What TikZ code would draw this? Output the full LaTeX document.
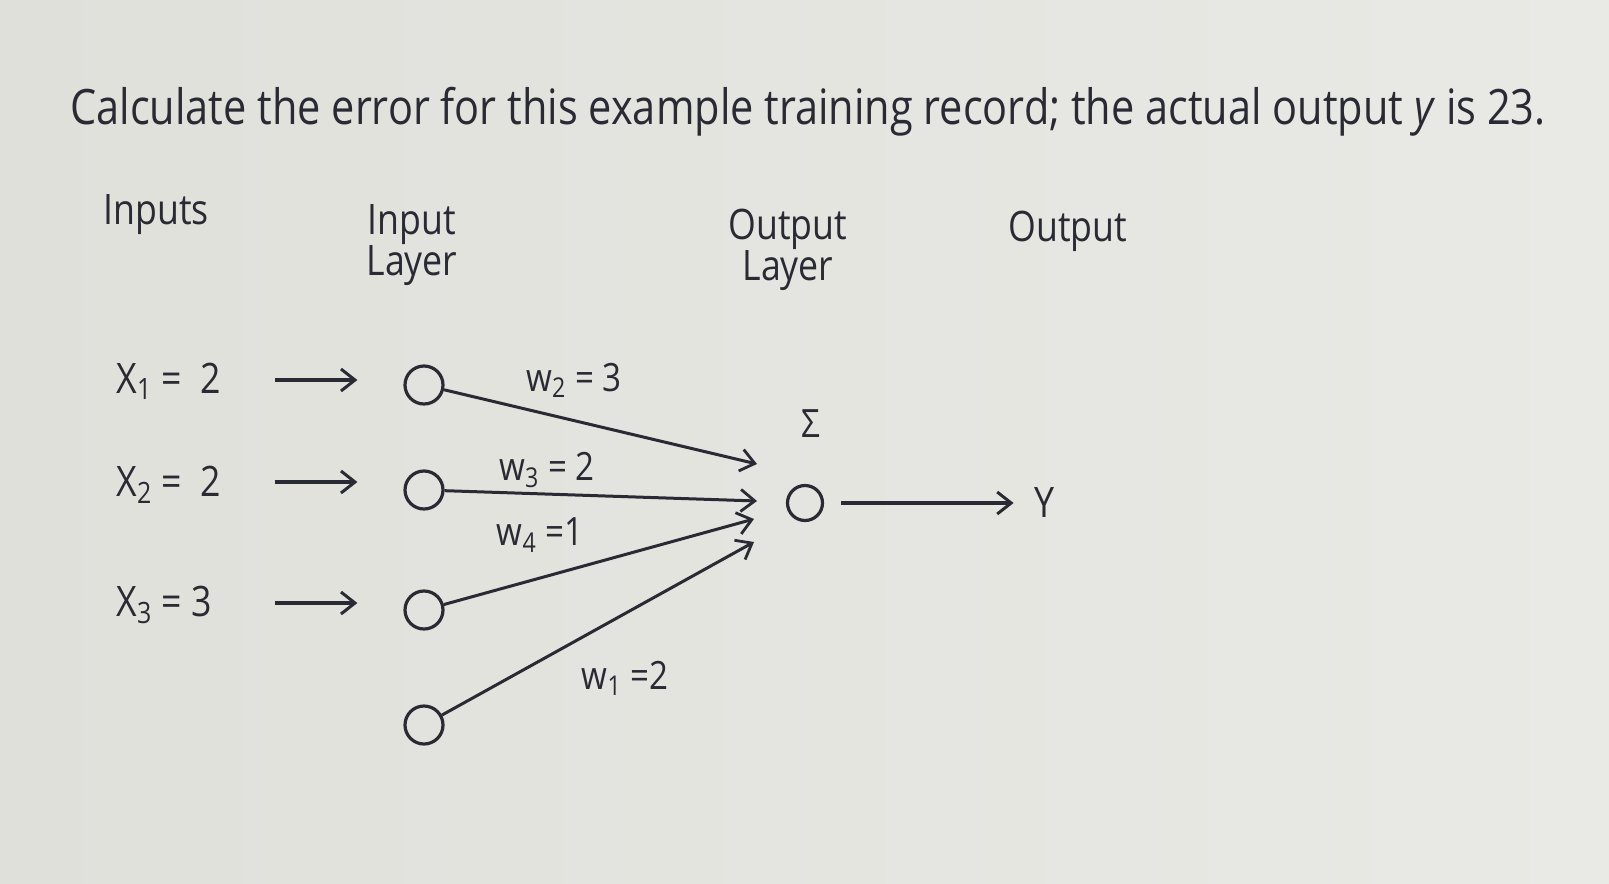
\documentclass[tikz,border=0pt]{standalone}
\usepackage{fontspec}
\setmainfont{Open Sans}[FakeStretch=0.85]
\usetikzlibrary{arrows.meta}
\definecolor{bg}{RGB}{224,224,219}
\definecolor{bgl}{RGB}{233,233,229}
\definecolor{ink}{RGB}{42,42,52}
\begin{document}
\begin{tikzpicture}[x=0.5pt,y=-0.5pt,
  every node/.style={text=ink, inner sep=0pt},
  title/.style={font=\fontsize{24.4}{29}\selectfont, anchor=base west},
  head/.style={font=\fontsize{21}{20.5}\selectfont, align=center, anchor=base},
  inlab/.style={font=\fontsize{21}{24}\selectfont, anchor=base west},
  wlab/.style={font=\fontsize{19.5}{22}\selectfont},
  neuron/.style={circle, draw=ink, line width=1.6pt, minimum size=19pt},
  outneuron/.style={circle, draw=ink, line width=1.6pt, minimum size=17.5pt},
  arr/.style={draw=ink, line width=1.7pt, -{Straight Barb[length=7pt,width=11pt,line width=1.5pt]}},
  conn/.style={draw=ink, line width=1.5pt, -{Straight Barb[length=7pt,width=11pt,line width=1.4pt]}}
]
\shade[left color=bg, right color=bgl] (0,0) rectangle (1609,883);
\useasboundingbox (0,0) rectangle (1609,883);

\node[title] (title) at (70,125) {Calculate the error for this example training record; the actual output \textit{y} is 23.};

\node[head, anchor=base west] (hinputs) at (103,224) {Inputs};
\node[head] (hinlayer) at (412,275) {Input\\Layer};
\node[head] (houtlayer) at (788,280) {Output\\Layer};
\node[head] (houtput) at (1068,241) {Output};

\node[inlab] (x1) at (116,393) {X\textsubscript{1} =\ \ 2};
\node[inlab] (x2) at (116,496) {X\textsubscript{2} =\ \ 2};
\node[inlab] (x3) at (116,616) {X\textsubscript{3} = 3};

\node[neuron] (i1) at (424,385) {};
\node[neuron] (i2) at (424,490) {};
\node[neuron] (i3) at (424,610) {};
\node[neuron] (i4) at (424,725) {};

\coordinate (a1) at (275,380);
\coordinate (a2) at (275,482);
\coordinate (a3) at (275,603);
\draw[arr, shorten >=23pt] (a1) -- (a1 -| i1.west);
\draw[arr, shorten >=23pt] (a2) -- (a2 -| i2.west);
\draw[arr, shorten >=23pt] (a3) -- (a3 -| i3.west);

\node[outneuron] (o) at (805,503) {};
\node[wlab] (sigma) at (811,424) {Σ};
\node[inlab, anchor=center] (y) at (1044,503) {Y};

\coordinate (e1) at (757,464);
\coordinate (e2) at (757,501);
\coordinate (e3) at (754,519);
\coordinate (e4) at (754,542);
\draw[conn] (i1) -- (e1);
\draw[conn] (i2) -- (e2);
\draw[conn] (i3) -- (e3);
\draw[conn] (i4) -- (e4);

\draw[arr, shorten <=8.5pt, shorten >=10pt] (o) -- (y);

\node[wlab] (w2) at (574,380) {w\textsubscript{2} = 3};
\node[wlab] (w3) at (547,470) {w\textsubscript{3} = 2};
\node[wlab] (w4) at (540,535) {w\textsubscript{4} =1};
\node[wlab] (w1) at (625,678) {w\textsubscript{1} =2};
\end{tikzpicture}
\end{document}
